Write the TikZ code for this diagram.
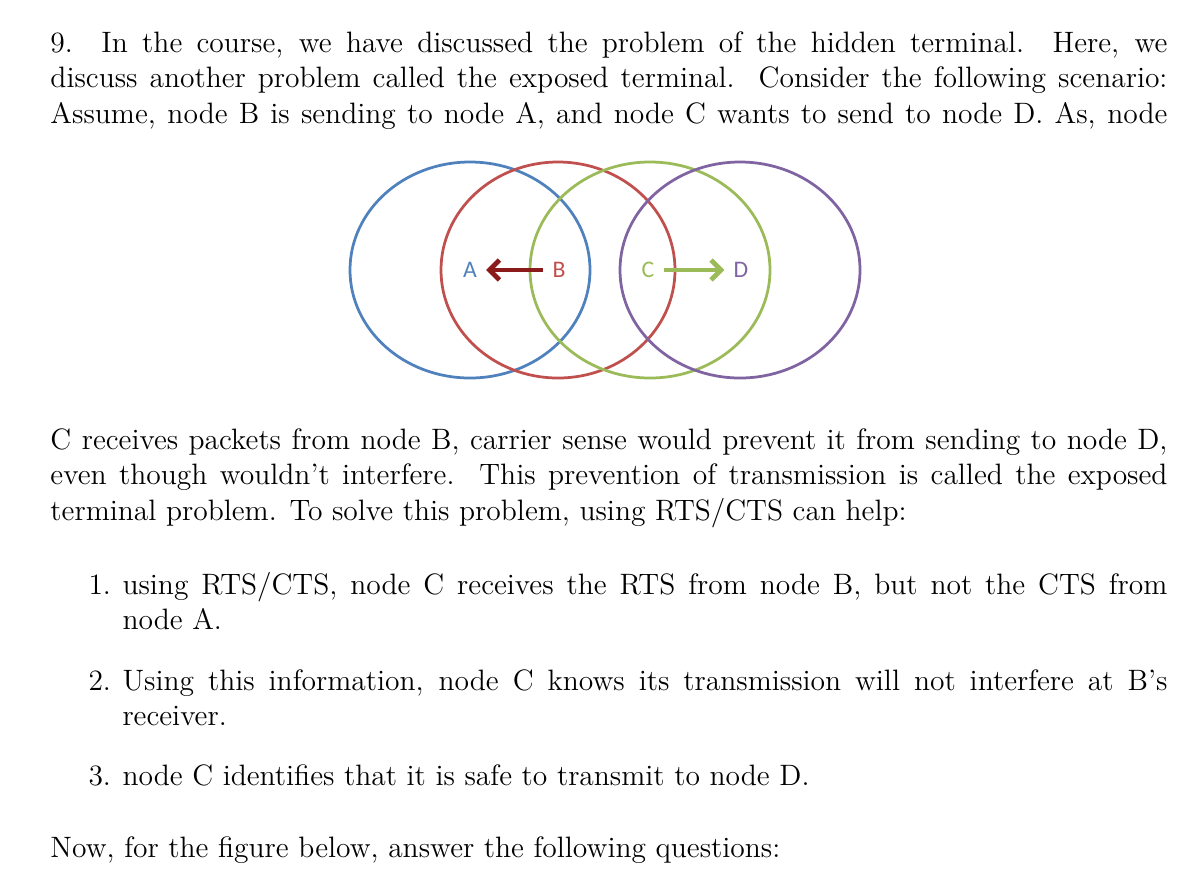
\documentclass[tikz,border=0pt]{standalone}
\usepackage{fontspec}
\newfontfamily\lblfont{Carlito}
\usetikzlibrary{arrows.meta}
\definecolor{cblue}{HTML}{4F81BD}
\definecolor{cred}{HTML}{C0504D}
\definecolor{cgreen}{HTML}{9BBB59}
\definecolor{cpurple}{HTML}{8064A2}
\definecolor{cdred}{HTML}{8B1A1A}
\tikzset{
  rangeline/.style={line width=1.1pt},
  para/.style={anchor=base west,inner sep=0pt,font=\fontsize{11.8}{14.2}\selectfont},
  lbl/.style={font=\lblfont\fontsize{9.5}{10}\selectfont,inner sep=3.5pt},
  sendarrow/.style={line width=1.9pt,-{Straight Barb[length=4pt,width=8pt]}}
}
\begin{document}
\begin{tikzpicture}[x=0.4pt,y=-0.4pt]
\useasboundingbox (0,0) rectangle (1185,868);
\node[para] (p1) at (50,52) {\parbox[t]{446.8pt}{\parfillskip=0pt 9.\ \ In the course, we have discussed the problem of the hidden terminal.\ \ Here, we\linebreak discuss another problem called the exposed terminal.\ \ Consider the following scenario:\linebreak Assume, node B is sending to node A, and node C wants to send to node D. As, node}};
\draw[rangeline,cblue] (470,270) ellipse [x radius=120, y radius=108];
\draw[rangeline,cred] (558,270) ellipse [x radius=117, y radius=108];
\draw[rangeline,cgreen] (650,270) ellipse [x radius=120, y radius=108];
\draw[rangeline,cpurple] (740,270) ellipse [x radius=120, y radius=108];
\node[lbl,text=cblue] (A) at (470,270) {A};
\node[lbl,text=cred] (B) at (559,270) {B};
\node[lbl,text=cgreen] (C) at (648,270) {C};
\node[lbl,text=cpurple] (D) at (741,270) {D};
\draw[sendarrow,cdred] (B) -- (A);
\draw[sendarrow,cgreen] (C) -- (D);
\node[para] (p2) at (50,449) {\parbox[t]{446.8pt}{C receives packets from node B, carrier sense would prevent it from sending to node D,\linebreak even though wouldn't interfere.\ \ This prevention of transmission is called the exposed\linebreak terminal problem. To solve this problem, using RTS/CTS can help:}};
\node[para] (n1) at (88,594) {1.};
\node[para] (i1) at (122,594) {\parbox[t]{418pt}{using RTS/CTS, node C receives the RTS from node B, but not the CTS from\linebreak node A.}};
\node[para] (n2) at (88,690) {2.};
\node[para] (i2) at (122,690) {\parbox[t]{418pt}{Using this information, node C knows its transmission will not interfere at B's\linebreak receiver.}};
\node[para] (n3) at (88,785) {3.};
\node[para] (i3) at (122,785) {node C identifies that it is safe to transmit to node D.};
\node[para] (p3) at (50,857) {Now, for the figure below, answer the following questions:};
\end{tikzpicture}
\end{document}
